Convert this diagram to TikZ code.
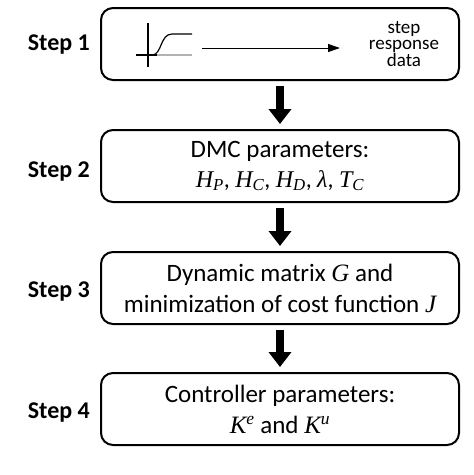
\documentclass[tikz,border=0pt]{standalone}
\usepackage{fontspec}
\setmainfont{Carlito}
\newfontfamily\tnr{Liberation Serif}
\usetikzlibrary{arrows.meta}
\newcommand{\mi}[1]{{\tnr\itshape #1}}
\tikzset{
  box/.style={draw, line width=2pt, rounded corners=12pt, minimum width=358pt, minimum height=72pt, align=center, font=\fontsize{25}{31}\selectfont, inner sep=0pt},
  steplbl/.style={font=\bfseries\fontsize{24}{26}\selectfont, anchor=east, inner sep=0pt},
  bigarrow/.style={line width=8pt, -{Triangle[width=22pt,length=15pt]}, shorten <=5pt, shorten >=5pt}
}
\begin{document}
\begin{tikzpicture}[x=1pt,y=-1pt]
\useasboundingbox (0,0) rectangle (474,475);
\node[box] (b1) at (280,44) {};
\node[box] (b2) at (280,166) {DMC parameters:\\[-1pt] {\fontsize{24}{31}\selectfont\mi{H}\textsubscript{\mi{P}}, \mi{H}\textsubscript{\mi{C}}, \mi{H}\textsubscript{\mi{D}}, \mi{λ}, \mi{T}\textsubscript{\mi{C}}}};
\node[box] (b3) at (280,288) {Dynamic matrix \mi{G} and\\ minimization of cost function \mi{J}};
\node[box] (b4) at (280,409) {Controller parameters:\\ \mi{K}\textsuperscript{\mi{e}} and \mi{K}\textsuperscript{\mi{u}}};
\node[steplbl] (s1) at (90,45) {Step 1};
\node[steplbl] (s2) at (90,172) {Step 2};
\node[steplbl] (s3) at (90,292) {Step 3};
\node[steplbl] (s4) at (90,413) {Step 4};
% step plot inside box 1
\coordinate (va) at (148,23);
\coordinate (vb) at (148,67);
\draw[line width=1.2pt] (va) -- (vb);
\draw[line width=1.2pt] (136,55) -- (157,55);
\draw[gray!60, line width=1.2pt] (157,55) -- (192,55);
\draw[line width=1.2pt] (152,55) .. controls (162,55) and (160,34) .. (172,34) -- (192,34);
\coordinate (ast) at (202,48);
\node[align=center, font=\fontsize{19}{16.5}\selectfont, inner sep=0pt] (srd) at (404,44) {step\\response\\data};
\draw[line width=1pt, -{Triangle[width=8pt,length=12pt]}] (ast) -- (340,48) coordinate (aen);
\draw[bigarrow] (b1) -- (b2);
\draw[bigarrow] (b2) -- (b3);
\draw[bigarrow] (b3) -- (b4);
\end{tikzpicture}
\end{document}
